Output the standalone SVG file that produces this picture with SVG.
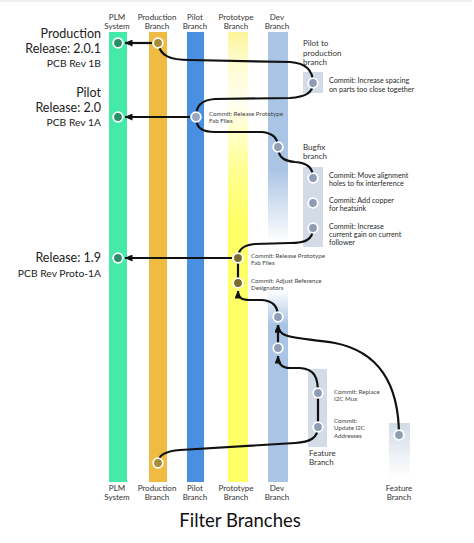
<svg xmlns="http://www.w3.org/2000/svg" width="474" height="543" viewBox="0 0 474 543">
<defs>
  <linearGradient id="gProto" x1="0" y1="32" x2="0" y2="482" gradientUnits="userSpaceOnUse">
    <stop offset="0" stop-color="#fcf59a"/>
    <stop offset="0.07" stop-color="#fffbd0"/>
    <stop offset="0.16" stop-color="#fffff0"/>
    <stop offset="0.3" stop-color="#ffff96"/>
    <stop offset="0.42" stop-color="#ffff66"/>
    <stop offset="1" stop-color="#ffff66"/>
  </linearGradient>
  <linearGradient id="gDevTop" x1="0" y1="32" x2="0" y2="242" gradientUnits="userSpaceOnUse">
    <stop offset="0" stop-color="#a9c4e4"/>
    <stop offset="0.65" stop-color="#a9c4e4"/>
    <stop offset="1" stop-color="#a9c4e4" stop-opacity="0"/>
  </linearGradient>
  <linearGradient id="gDevBot" x1="0" y1="290" x2="0" y2="325" gradientUnits="userSpaceOnUse">
    <stop offset="0" stop-color="#a9c4e4" stop-opacity="0"/>
    <stop offset="1" stop-color="#a9c4e4"/>
  </linearGradient>
  <linearGradient id="gFeat2" x1="0" y1="423" x2="0" y2="478" gradientUnits="userSpaceOnUse">
    <stop offset="0" stop-color="#d3dbe6"/>
    <stop offset="1" stop-color="#d3dbe6" stop-opacity="0"/>
  </linearGradient>
  <marker id="arrow" viewBox="0 0 8 7" refX="7.5" refY="3.5" markerWidth="8" markerHeight="7" markerUnits="userSpaceOnUse" orient="auto">
    <path d="M0,0 L8,3.5 L0,7 z" fill="#111"/>
  </marker>
</defs>
<style>
  text { font-family: Lato, "Liberation Sans", sans-serif; }
  .lane { font-size: 8px; fill: #333; text-anchor: middle; }
  .note { font-size: 8px; fill: #333; }
  .big { font-size: 12.5px; fill: #222; text-anchor: end; }
  .pcb { font-size: 10.3px; fill: #222; text-anchor: end; }
  .cm { font-size: 7.2px; fill: #2a2a2a; }
  .cs { font-size: 6.2px; fill: #444; }
  .title { font-size: 18.5px; fill: #111; text-anchor: middle; }
  .dot { stroke: #fff; stroke-width: 1.8; }
  .plm { fill: #2b8c6c; }
  .prod { fill: #a88b3a; }
  .pil { fill: #98a6c0; }
  .dev { fill: #8e9db3; }
  .pro { fill: #7c6a2e; }
  .box { fill: #d3dbe6; }
  .con { fill: none; stroke: #111; stroke-width: 2.2; }
</style>
<rect x="0" y="0" width="474" height="543" fill="#fff"/>
<rect x="0" y="0" width="472" height="2" fill="#eeeeee"/>

<!-- Lanes -->
<g id="lane-plm">
  <rect x="109" y="32" width="18" height="450" fill="#45eaa9"/>
  <text class="lane" x="117" y="20">PLM</text><text class="lane" x="117" y="29">System</text>
  <text class="lane" x="117" y="491">PLM</text><text class="lane" x="117" y="500">System</text>
</g>
<g id="lane-production">
  <rect x="149" y="32" width="18" height="450" fill="#f0bb42"/>
  <text class="lane" x="157" y="20">Production</text><text class="lane" x="157" y="29">Branch</text>
  <text class="lane" x="157" y="491">Production</text><text class="lane" x="157" y="500">Branch</text>
</g>
<g id="lane-pilot">
  <rect x="187" y="32" width="17" height="450" fill="#4a90e2"/>
  <text class="lane" x="195" y="20">Pilot</text><text class="lane" x="195" y="29">Branch</text>
  <text class="lane" x="195" y="491">Pilot</text><text class="lane" x="195" y="500">Branch</text>
</g>
<g id="lane-prototype">
  <rect x="228" y="32" width="20" height="450" fill="url(#gProto)"/>
  <text class="lane" x="236" y="20">Prototype</text><text class="lane" x="236" y="29">Branch</text>
  <text class="lane" x="236" y="491">Prototype</text><text class="lane" x="236" y="500">Branch</text>
</g>
<g id="lane-dev">
  <rect x="268" y="32" width="20" height="210" fill="url(#gDevTop)"/>
  <rect x="268" y="290" width="20" height="192" fill="url(#gDevBot)"/>
  <text class="lane" x="277" y="20">Dev</text><text class="lane" x="277" y="29">Branch</text>
  <text class="lane" x="277" y="491">Dev</text><text class="lane" x="277" y="500">Branch</text>
</g>
<g id="lane-pilot-to-production">
  <rect class="box" x="303" y="72" width="20" height="21"/>
  <text class="note" x="303" y="46">Pilot to</text><text class="note" x="303" y="55.5">production</text><text class="note" x="303" y="64.5">branch</text>
</g>
<g id="lane-bugfix">
  <rect class="box" x="303" y="167" width="20" height="80"/>
  <text class="note" x="303" y="150">Bugfix</text><text class="note" x="303" y="159">branch</text>
</g>
<g id="lane-feature1">
  <rect class="box" x="308" y="369" width="19" height="78"/>
  <text class="note" x="309" y="456">Feature</text><text class="note" x="309" y="465">Branch</text>
</g>
<g id="lane-feature2">
  <rect x="389" y="423" width="21" height="55" fill="url(#gFeat2)"/>
  <text class="lane" x="399" y="491">Feature</text><text class="lane" x="399" y="500">Branch</text>
</g>

<!-- Connectors -->
<g id="connectors">
  <path class="con" d="M152,43 L125,43" marker-end="url(#arrow)"/>
  <path class="con" d="M190,117 L125,117" marker-end="url(#arrow)"/>
  <path class="con" d="M232,258 L125,258" marker-end="url(#arrow)"/>
  <path class="con" d="M158,43 C160,56 170,60 190,60 L290,62 C305,63 313,70 313,83"/>
  <path class="con" d="M313,83 C313,93 305,97 290,98 L215,99 C201,100 196,106 196,117"/>
  <path class="con" d="M196,117 C196,128 202,132 215,132 L262,132 C272,133 278,138 278,147"/>
  <path class="con" d="M278,147 C278,158 285,161 295,162 C308,163 313,168 313,178"/>
  <path class="con" d="M313,228 C313,240 305,243 290,243 L255,244 C243,245 238,250 238,258"/>
  <path class="con" d="M238,258 L238,283"/>
  <path class="con" d="M278,317 C278,305 272,301 262,300 L250,300 C242,300 238,298 238,291" marker-end="url(#arrow)"/>
  <path class="con" d="M278,348 L278,325" marker-end="url(#arrow)"/>
  <path class="con" d="M399,436 C399,385 380,352 335,343 C300,337 278,340 278,325" marker-end="url(#arrow)"/>
  <path class="con" d="M318,393 C318,378 315,369 300,368 L290,368 C282,368 278,364 278,356" marker-end="url(#arrow)"/>
  <path class="con" d="M318,393 L318,427"/>
  <path class="con" d="M318,427 C318,438 310,442 295,443 L180,450 C166,451 158,455 158,463"/>
</g>

<!-- Release nodes -->
<g id="release-2-0-1">
  <circle class="dot plm" cx="118" cy="43" r="4.8"/>
  <text class="big" x="101" y="38">Production</text>
  <text class="big" x="101" y="53">Release: 2.0.1</text>
  <text class="pcb" x="101" y="67">PCB Rev 1B</text>
</g>
<g id="release-2-0">
  <circle class="dot plm" cx="118" cy="117" r="4.8"/>
  <text class="big" x="101" y="97">Pilot</text>
  <text class="big" x="101" y="112">Release: 2.0</text>
  <text class="pcb" x="101" y="126">PCB Rev 1A</text>
</g>
<g id="release-1-9">
  <circle class="dot plm" cx="118" cy="258" r="4.8"/>
  <text class="big" x="101" y="262">Release: 1.9</text>
  <text class="pcb" x="101" y="277">PCB Rev Proto-1A</text>
</g>

<!-- Commit nodes -->
<g id="prod-top"><circle class="dot prod" cx="158" cy="43" r="4.8"/></g>
<g id="prod-bottom"><circle class="dot prod" cx="158" cy="463" r="4.8"/></g>
<g id="pilot-commit">
  <circle class="dot pil" cx="196" cy="117" r="4.8"/>
  <text class="cs" x="209" y="116">Commit: Release Prototype</text>
  <text class="cs" x="209" y="123">Fab Files</text>
</g>
<g id="p2p-commit">
  <circle class="dot dev" cx="313" cy="83" r="4.8"/>
  <text class="cm" x="329" y="83">Commit: Increase spacing</text>
  <text class="cm" x="329" y="91.5">on parts too close together</text>
</g>
<g id="dev-1"><circle class="dot dev" cx="278" cy="147" r="4.8"/></g>
<g id="bugfix-1">
  <circle class="dot dev" cx="313" cy="178" r="4.8"/>
  <text class="cm" x="329" y="177.5">Commit: Move alignment</text>
  <text class="cm" x="329" y="185.5">holes to fix interference</text>
</g>
<g id="bugfix-2">
  <circle class="dot dev" cx="313" cy="203" r="4.8"/>
  <text class="cm" x="329" y="203">Commit: Add copper</text>
  <text class="cm" x="329" y="211">for heatsink</text>
</g>
<g id="bugfix-3">
  <circle class="dot dev" cx="313" cy="228" r="4.8"/>
  <text class="cm" x="329" y="228.5">Commit: Increase</text>
  <text class="cm" x="329" y="236.5">current gain on current</text>
  <text class="cm" x="329" y="244.5">follower</text>
</g>
<g id="proto-1">
  <circle class="dot pro" cx="238" cy="258" r="4.8"/>
  <text class="cs" x="251" y="258">Commit: Release Prototype</text>
  <text class="cs" x="251" y="265">Fab Files</text>
</g>
<g id="proto-2">
  <circle class="dot pro" cx="238" cy="283" r="4.8"/>
  <text class="cs" x="251" y="283">Commit: Adjust Reference</text>
  <text class="cs" x="251" y="290">Designators</text>
</g>
<g id="dev-2"><circle class="dot dev" cx="278" cy="317" r="4.8"/></g>
<g id="dev-3"><circle class="dot dev" cx="278" cy="348" r="4.8"/></g>
<g id="feature-1">
  <circle class="dot dev" cx="318" cy="393" r="4.8"/>
  <text class="cs" x="334" y="394">Commit: Replace</text>
  <text class="cs" x="334" y="401">I2C Mux</text>
</g>
<g id="feature-2">
  <circle class="dot dev" cx="318" cy="427" r="4.8"/>
  <text class="cs" x="334" y="423">Commit:</text>
  <text class="cs" x="334" y="430">Update I2C</text>
  <text class="cs" x="334" y="437.5">Addresses</text>
</g>
<g id="feature-b"><circle class="dot dev" cx="399" cy="435" r="4.8"/></g>

<g id="title"><text class="title" x="240" y="527">Filter Branches</text></g>
</svg>
